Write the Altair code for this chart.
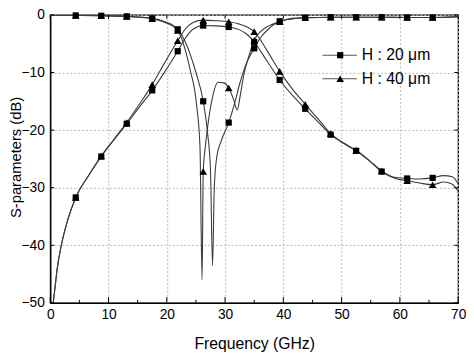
import altair as alt
import pandas as pd

# ---------------- data ----------------
# marker frequencies (GHz)
mk_f = [4.375, 8.75, 13.125, 17.5, 21.875, 26.25, 30.625, 35.0, 39.375,
        43.75, 48.125, 52.5, 56.875, 61.25, 65.625]

# transmission curves (S21)
s21_f = [0.5, 0.8, 1.2, 1.9, 3.0, 4.375, 6.5, 8.75, 11.0, 13.125, 15.3, 17.5,
         19.7, 21.875, 23.2, 24.5, 26.25, 28.5, 30.625, 32.5, 33.8, 35.0, 37.2,
         39.375, 41.5, 43.75, 46.0, 48.125, 50.3, 52.5, 54.7, 56.875, 59.0,
         61.25, 63.4, 65.625, 67.5, 69.0, 70.0]
s21_h20 = [-50, -47.5, -44, -40, -35.6, -31.7, -28, -24.6, -21.6, -18.9, -16,
           -13.1, -9.8, -6.3, -4.0, -2.5, -1.85, -1.9, -2.1, -2.6, -3.4, -4.7,
           -8.0, -11.3, -13.9, -16.3, -18.6, -20.8, -22.3, -23.6, -25.3, -27.2,
           -28.2, -28.4, -28.5, -28.3, -27.9, -28.1, -29.3]
s21_h40 = [-50, -47.5, -44, -40, -35.6, -31.7, -28, -24.5, -21.5, -18.7, -15.5,
           -12.1, -8.2, -4.5, -2.4, -1.3, -0.9, -1.0, -1.2, -1.6, -2.1, -2.9,
           -6.2, -9.8, -12.8, -15.5, -18.1, -20.6, -22.2, -23.5, -25.2, -27.1,
           -28.3, -28.8, -29.2, -29.5, -29.0, -29.4, -30.6]

# reflection curves (S11)
s11_h20_f = [0, 4.375, 8.75, 13.125, 17.5, 19.7, 21.875, 23.0, 24.0, 25.0,
             26.25, 27.0, 27.5, 27.85, 28.15, 28.6, 29.3, 30.625, 31.6, 32.5,
             33.5, 35.0, 36.2, 37.5, 39.375, 41.5, 43.75, 48.125, 52.5, 56.875,
             61.25, 65.625, 70.0]
s11_h20 = [0, -0.1, -0.15, -0.25, -0.6, -1.2, -2.5, -4.3, -6.8, -10, -15,
           -20.5, -27, -43.5, -30, -24.5, -22, -18.7, -15.5, -12, -8.8, -5.8,
           -3.8, -2.4, -1.1, -0.7, -0.5, -0.4, -0.4, -0.4, -0.45, -0.45, -0.3]
s11_h40_f = [0, 4.375, 8.75, 13.125, 17.5, 19.7, 21.875, 23.0, 24.0, 25.1,
             25.7, 26.05, 26.25, 26.6, 27.0, 27.8, 28.8, 29.8, 30.625, 31.4,
             32.1, 32.6, 33.2, 34.1, 35.0, 36.2, 37.5, 39.375, 41.5, 43.75,
             48.125, 52.5, 56.875, 61.25, 65.625, 70.0]
s11_h40 = [0, -0.1, -0.15, -0.25, -0.65, -1.3, -2.7, -5.5, -9.5, -15.5, -23,
           -46, -27.2, -23, -19.5, -14.5, -11.7, -11.8, -12.7, -14.5, -16.5,
           -14, -10.5, -7.1, -4.4, -2.8, -1.9, -1.2, -0.6, -0.5, -0.4, -0.4,
           -0.4, -0.45, -0.45, -0.3]

# marker values
mk_s21_h20 = [-31.7, -24.6, -18.9, -13.1, -6.3, -1.85, -2.1, -4.7, -11.3,
              -16.3, -20.8, -23.6, -27.2, -28.4, -28.3]
mk_s21_h40 = [-31.7, -24.5, -18.7, -12.1, -4.5, -0.9, -1.2, -2.9, -9.8,
              -15.5, -20.6, -23.5, -27.1, -28.8, -29.5]
mk_s11_h20 = [-0.1, -0.15, -0.25, -0.6, -2.5, -15.0, -18.7, -5.8, -1.1,
              -0.5, -0.4, -0.4, -0.4, -0.45, -0.45]
mk_s11_h40 = [-0.1, -0.15, -0.25, -0.65, -2.7, -27.2, -12.7, -4.4, -1.2,
              -0.5, -0.4, -0.4, -0.4, -0.45, -0.45]

legend_labels = ["H : 20 \u03bcm", "H : 40 \u03bcm"]
x_ticks = list(range(0, 75, 5))
y_ticks = list(range(-50, 10, 10))

# ---------------- tables ----------------
lines = pd.concat([
    pd.DataFrame({"f": s21_f, "v": s21_h20, "curve": "S21_H20"}),
    pd.DataFrame({"f": s21_f, "v": s21_h40, "curve": "S21_H40"}),
    pd.DataFrame({"f": s11_h20_f, "v": s11_h20, "curve": "S11_H20"}),
    pd.DataFrame({"f": s11_h40_f, "v": s11_h40, "curve": "S11_H40"}),
], ignore_index=True)

mk20 = pd.concat([
    pd.DataFrame({"f": mk_f, "v": mk_s21_h20}),
    pd.DataFrame({"f": mk_f, "v": mk_s11_h20}),
], ignore_index=True)
mk40 = pd.concat([
    pd.DataFrame({"f": mk_f, "v": mk_s21_h40}),
    pd.DataFrame({"f": mk_f, "v": mk_s11_h40}),
], ignore_index=True)

FONT = "Arial, Liberation Sans, sans-serif"
LEFT = 43
W, H = 415, 293
TOP = 4

xs = alt.Scale(domain=[0, 70], nice=False, zero=False)
ys = alt.Scale(domain=[-50, 0], nice=False, zero=False)

x_enc = alt.X(
    "f:Q", scale=xs,
    axis=alt.Axis(
        values=x_ticks, title="Frequency (GHz)",
        labelExpr="datum.value % 10 == 0 ? datum.label : ''",
        grid=True, gridDash=[2, 2], gridColor="#b8b8b8", gridWidth=1,
        tickSize=0, labelPadding=5, labelFontSize=14, labelFont=FONT,
        labelColor="black", domainColor="black", domainWidth=1.3,
        titleFont=FONT, titleFontSize=16, titleFontWeight="normal",
        titleColor="black", titleY=41, titleBaseline="middle",
        titleX=W / 2, labelFlush=False, labelOverlap=False,
    ),
)
y_enc = alt.Y(
    "v:Q", scale=ys,
    axis=alt.Axis(
        values=y_ticks, title="S-parameters (dB)",
        grid=True, gridDash=[2, 2], gridColor="#b8b8b8", gridWidth=1,
        tickSize=0, labelPadding=6, labelFontSize=14, labelFont=FONT,
        labelColor="black", domainColor="black", domainWidth=1.3,
        titleFont=FONT, titleFontSize=15, titleFontWeight="normal",
        titleColor="black", titleX=15.5 - (LEFT + 8), titleY=H / 2 - 2,
        titleAlign="center", titleBaseline="middle",
        labelFlush=False, labelOverlap=False,
    ),
)

line_layer = alt.Chart(lines).mark_line(
    interpolate="monotone", color="#3a3a3a", strokeWidth=1.1, clip=True
).encode(x=x_enc, y=y_enc, detail="curve:N")

sq_layer = alt.Chart(mk20).mark_point(
    shape="square", filled=True, color="black", size=40, opacity=1
).encode(x=alt.X("f:Q", scale=xs), y=alt.Y("v:Q", scale=ys))

tri_layer = alt.Chart(mk40).mark_point(
    shape="triangle-up", filled=True, color="black", size=60, opacity=1
).encode(x=alt.X("f:Q", scale=xs), y=alt.Y("v:Q", scale=ys))

# inward ticks
xt_major = pd.DataFrame({"f": [t for t in x_ticks if t % 10 == 0]})
xt_minor = pd.DataFrame({"f": [t for t in x_ticks if t % 10 != 0]})
rule = dict(color="black", strokeWidth=1)
xtick_b_major = alt.Chart(xt_major).mark_rule(**rule).encode(
    x=alt.X("f:Q", scale=xs), y=alt.value(H), y2=alt.value(H - 6))
xtick_b_minor = alt.Chart(xt_minor).mark_rule(**rule).encode(
    x=alt.X("f:Q", scale=xs), y=alt.value(H), y2=alt.value(H - 3))
xtick_top = alt.Chart(xt_major).mark_rule(**rule).encode(
    x=alt.X("f:Q", scale=xs), y=alt.value(0), y2=alt.value(4))
yt = pd.DataFrame({"v": y_ticks})
ytick_left = alt.Chart(yt).mark_rule(**rule).encode(
    y=alt.Y("v:Q", scale=ys), x=alt.value(0), x2=alt.value(4))
ytick_right = alt.Chart(yt).mark_rule(**rule).encode(
    y=alt.Y("v:Q", scale=ys), x=alt.value(W), x2=alt.value(W - 4))

# manual legend (inside the plot, upper right)
LX = -(LEFT + 8)
LY1, LY2 = 53 - 8 - TOP, 77 - 8 - TOP
leg = pd.DataFrame({"label": legend_labels})
leg_rule1 = alt.Chart(leg.iloc[[0]]).mark_rule(color="#555", strokeWidth=1.1).encode(
    x=alt.value(328 + LX), x2=alt.value(363 + LX), y=alt.value(LY1))
leg_rule2 = alt.Chart(leg.iloc[[1]]).mark_rule(color="#555", strokeWidth=1.1).encode(
    x=alt.value(328 + LX), x2=alt.value(363 + LX), y=alt.value(LY2))
leg_sq = alt.Chart(leg.iloc[[0]]).mark_point(
    shape="square", filled=True, color="black", size=40, opacity=1
).encode(x=alt.value(346 + LX), y=alt.value(LY1))
leg_tri = alt.Chart(leg.iloc[[1]]).mark_point(
    shape="triangle-up", filled=True, color="black", size=60, opacity=1
).encode(x=alt.value(346 + LX), y=alt.value(LY2))
leg_t1 = alt.Chart(leg.iloc[[0]]).mark_text(
    align="left", baseline="middle", font=FONT, fontSize=16, color="black"
).encode(x=alt.value(368 + LX), y=alt.value(LY1), text="label:N")
leg_t2 = alt.Chart(leg.iloc[[1]]).mark_text(
    align="left", baseline="middle", font=FONT, fontSize=16, color="black"
).encode(x=alt.value(368 + LX), y=alt.value(LY2), text="label:N")

chart = alt.layer(
    line_layer, sq_layer, tri_layer,
    xtick_b_major, xtick_b_minor, xtick_top, ytick_left, ytick_right,
    leg_rule1, leg_rule2, leg_sq, leg_tri, leg_t1, leg_t2,
).properties(
    width=W, height=H,
    autosize=alt.AutoSizeParams(type="none"),
    padding={"left": LEFT, "top": TOP, "right": 8, "bottom": 50},
    background="white",
).configure_view(
    stroke="black", strokeWidth=1.3
)

chart.save("out.html", embed_options={"renderer": "svg", "actions": False})
